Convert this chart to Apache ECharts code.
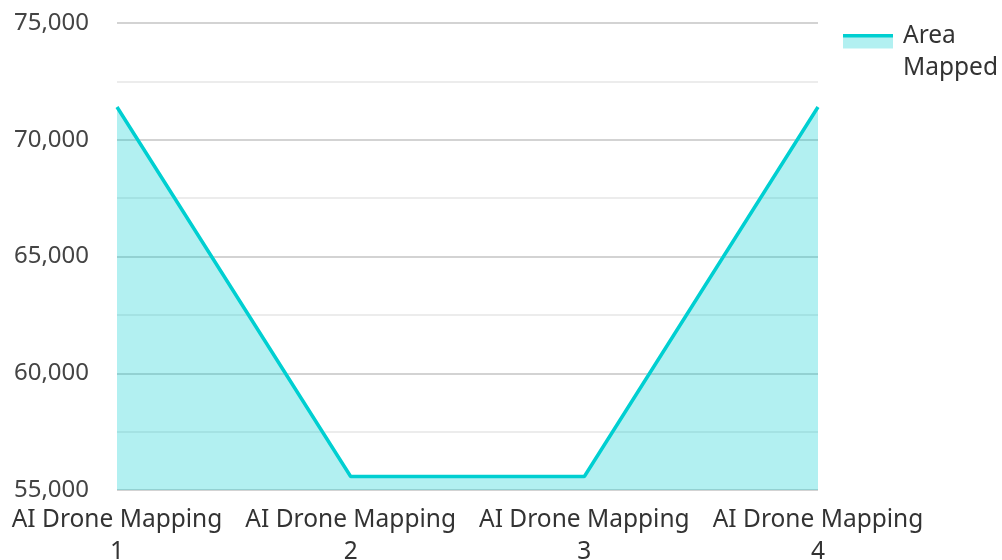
<!DOCTYPE html>
<html><head><meta charset="utf-8">
<script src="https://cdn.jsdelivr.net/npm/echarts@6/dist/echarts.min.js"></script>
<style>html,body{margin:0;padding:0;background:#fff}#c{width:1002px;height:560px}</style>
</head><body><div id="c"></div>
<script>
var categories = ['AI Drone Mapping\n1', 'AI Drone Mapping\n2', 'AI Drone Mapping\n3', 'AI Drone Mapping\n4'];
var areaMapped = [71400, 55580, 55580, 71400];
var seriesName = 'Area\nMapped';
var lineColor = '#00cfd1';
var iconSvg = '<svg xmlns="http://www.w3.org/2000/svg" width="50" height="37"><rect x="0" y="0" width="50" height="15" fill="rgba(0,206,209,0.3)"/><rect x="0" y="0" width="50" height="4" fill="#00cfd1"/></svg>';
var chart = echarts.init(document.getElementById('c'));
chart.setOption({
  animation: false,
  textStyle: {fontFamily: 'Noto Sans'},
  grid: {left: 117, right: 184, top: 23, bottom: 70, containLabel: false, outerBoundsMode: 'none'},
  legend: {
    left: 838, top: 15, orient: 'vertical',
    itemWidth: 50, itemHeight: 37, itemGap: 10,
    icon: 'image://data:image/svg+xml;charset=utf-8,' + encodeURIComponent(iconSvg),
    textStyle: {fontSize: 24.5, color: '#333', lineHeight: 32, fontFamily: 'Noto Sans', padding: [0, 0, 0, 5]},
    data: [seriesName]
  },
  xAxis: {
    type: 'category', data: categories, boundaryGap: false,
    axisLine: {show: false}, axisTick: {show: false},
    axisLabel: {fontSize: 24.5, color: '#333', lineHeight: 32, margin: 14, fontFamily: 'Noto Sans', interval: 0},
    splitLine: {show: false}
  },
  yAxis: {
    type: 'value', min: 55000, max: 75000, interval: 5000,
    axisLine: {show: false}, axisTick: {show: false},
    axisLabel: {fontSize: 24, color: '#444', margin: 28, fontFamily: 'Noto Sans',
      formatter: function(v){ return v.toLocaleString('en-US'); }},
    splitLine: {show: true, lineStyle: {color: '#c4c4c4', width: 1.5}},
    minorTick: {show: false, splitNumber: 2},
    minorSplitLine: {show: true, lineStyle: {color: '#e6e6e6', width: 1.5}}
  },
  series: [{
    name: seriesName, type: 'line', data: areaMapped,
    showSymbol: false, symbol: 'none',
    lineStyle: {color: lineColor, width: 3.5},
    itemStyle: {color: lineColor},
    areaStyle: {color: 'rgb(0,206,209)', opacity: 0.3, origin: 'start'}
  }]
});
</script></body></html>
